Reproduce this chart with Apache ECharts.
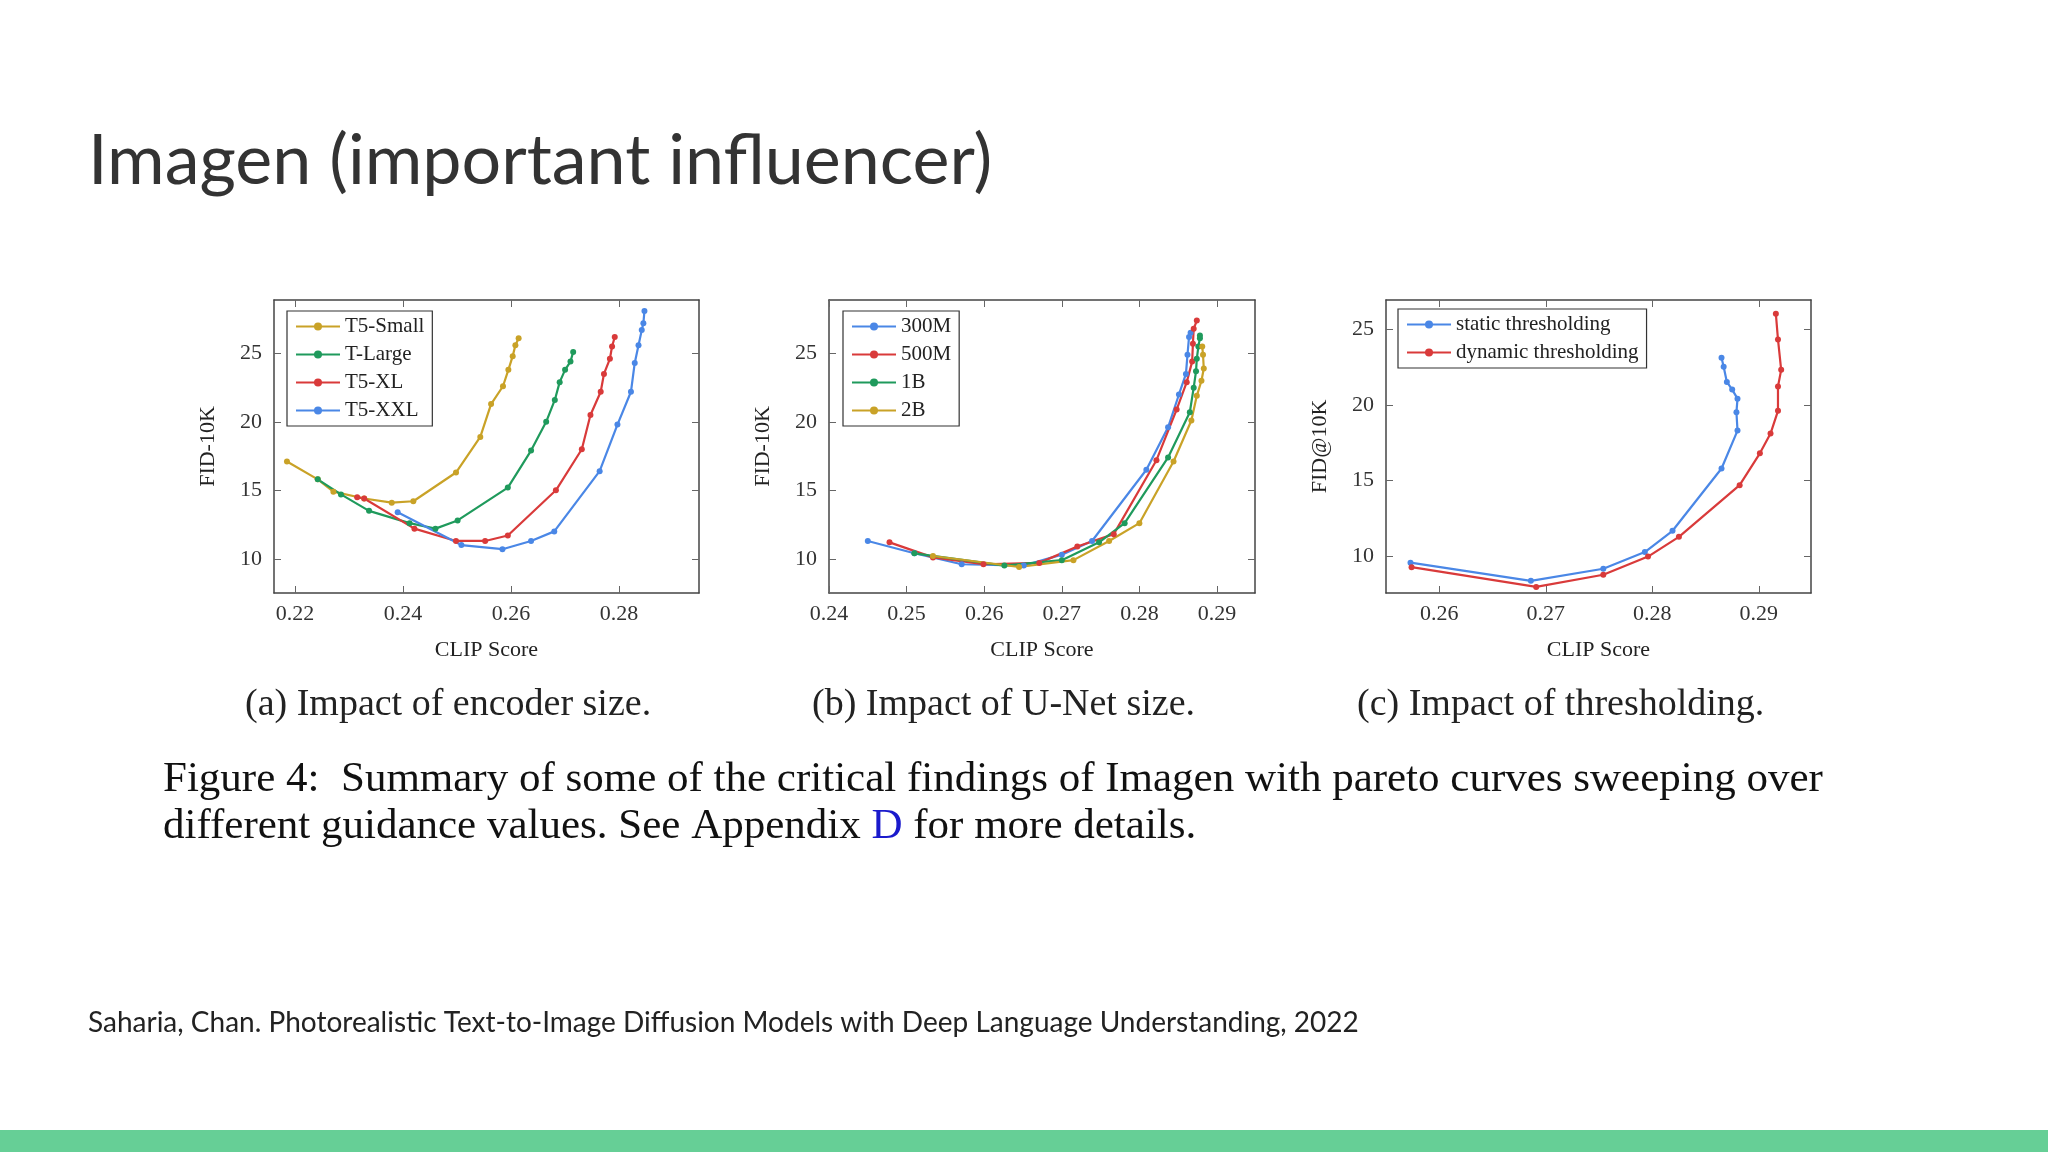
<!DOCTYPE html>
<html><head><meta charset="utf-8">
<script src="https://cdn.jsdelivr.net/npm/echarts@6/dist/echarts.min.js"></script>
<style>html,body{margin:0;padding:0;background:#fff}#c{width:2048px;height:1152px}</style>
</head><body><div id="c"></div>
<script>
// Panel (a)
const t5Small=[[0.2185,17.1],[0.2242,15.8],[0.2271,14.9],[0.2328,14.4],[0.2379,14.1],[0.2419,14.2],[0.2498,16.3],[0.2543,18.9],[0.2563,21.3],[0.2585,22.6],[0.2595,23.8],[0.2603,24.8],[0.2608,25.6],[0.2614,26.1]];
const tLarge=[[0.2242,15.8],[0.2285,14.7],[0.2337,13.5],[0.2412,12.6],[0.2460,12.2],[0.2501,12.8],[0.2594,15.2],[0.2637,17.9],[0.2665,20.0],[0.2681,21.6],[0.2690,22.9],[0.2700,23.8],[0.2710,24.4],[0.2715,25.1]];
const t5XL=[[0.2315,14.5],[0.2328,14.4],[0.2421,12.2],[0.2498,11.3],[0.2552,11.3],[0.2594,11.7],[0.2683,15.0],[0.2731,18.0],[0.2747,20.5],[0.2766,22.2],[0.2772,23.5],[0.2783,24.6],[0.2787,25.5],[0.2792,26.2]];
const t5XXL=[[0.2390,13.4],[0.2508,11.0],[0.2584,10.7],[0.2637,11.3],[0.2680,12.0],[0.2764,16.4],[0.2797,19.8],[0.2822,22.2],[0.2829,24.3],[0.2836,25.6],[0.2842,26.7],[0.2845,27.2],[0.2847,28.1]];
// Panel (b)
const m300=[[0.2450,11.3],[0.2510,10.4],[0.2571,9.6],[0.2651,9.5],[0.2700,10.3],[0.2739,11.3],[0.2809,16.5],[0.2837,19.6],[0.2851,22.0],[0.2860,23.5],[0.2862,24.9],[0.2864,26.2],[0.2866,26.5]];
const m500=[[0.2478,11.2],[0.2534,10.1],[0.2599,9.6],[0.2671,9.7],[0.2720,10.9],[0.2767,11.8],[0.2822,17.2],[0.2848,20.9],[0.2861,22.9],[0.2868,24.4],[0.2869,25.7],[0.2870,26.8],[0.2874,27.4]];
const b1=[[0.2510,10.4],[0.2626,9.5],[0.2700,9.9],[0.2748,11.2],[0.2781,12.6],[0.2837,17.4],[0.2865,20.7],[0.2870,22.5],[0.2873,23.7],[0.2874,24.6],[0.2876,25.5],[0.2878,26.1],[0.2878,26.3]];
const b2=[[0.2534,10.2],[0.2645,9.4],[0.2715,9.9],[0.2761,11.3],[0.2800,12.6],[0.2844,17.1],[0.2867,20.1],[0.2874,21.9],[0.2880,23.0],[0.2883,23.9],[0.2882,24.9],[0.2881,25.5]];
// Panel (c)
const staticTh=[[0.2573,9.6],[0.2686,8.4],[0.2754,9.2],[0.2793,10.3],[0.2819,11.7],[0.2865,15.8],[0.2880,18.3],[0.2879,19.5],[0.2880,20.4],[0.2875,21.0],[0.2870,21.5],[0.2867,22.5],[0.2865,23.1]];
const dynamicTh=[[0.2574,9.3],[0.2691,8.0],[0.2754,8.8],[0.2796,10.0],[0.2825,11.3],[0.2882,14.7],[0.2901,16.8],[0.2911,18.1],[0.2918,19.6],[0.2918,21.2],[0.2921,22.3],[0.2918,24.3],[0.2916,26.0]];
const xTicksA=[0.22,0.24,0.26,0.28], xTicksB=[0.24,0.25,0.26,0.27,0.28,0.29], xTicksC=[0.26,0.27,0.28,0.29];
const yTicks=[10,15,20,25];

const C={gold:'#c9a227',green:'#1f9a5c',red:'#d93a3a',blue:'#4a87e6'};
const serif='Liberation Serif';
const grids=[{left:274,top:300,width:425,height:293},{left:829,top:300,width:426,height:293},{left:1386,top:300,width:425,height:293}];
const xr=[[0.2161,0.2948,xTicksA],[0.24,0.2949,xTicksB],[0.255,0.2949,xTicksC]];
const yr=[[7.5,28.9,'FID-10K'],[7.5,28.9,'FID-10K'],[7.6,26.9,'FID@10K']];
const xAxis=[],yAxis=[];
grids.forEach((g,i)=>{
  const base={min:xr[i][0],max:xr[i][1],gridIndex:i,type:'value',splitLine:{show:false},
    axisLine:{lineStyle:{color:'#444',width:1.5}},axisTick:{inside:true,length:7,customValues:xr[i][2],lineStyle:{color:'#666'}}};
  xAxis.push(Object.assign({},base,{position:'bottom',name:'CLIP Score',nameLocation:'middle',nameGap:46,
    nameTextStyle:{fontFamily:serif,fontSize:22,color:'#222'},
    axisLabel:{customValues:xr[i][2],formatter:v=>v.toFixed(2),fontFamily:serif,fontSize:22,color:'#333',margin:10}}));
  xAxis.push(Object.assign({},base,{position:'top',axisLabel:{show:false}}));
  const yb={min:yr[i][0],max:yr[i][1],gridIndex:i,type:'value',splitLine:{show:false},
    axisLine:{lineStyle:{color:'#444',width:1.5}},axisTick:{inside:true,length:7,customValues:yTicks,lineStyle:{color:'#666'}}};
  yAxis.push(Object.assign({},yb,{position:'left',name:yr[i][2],nameLocation:'middle',nameGap:55,
    nameTextStyle:{fontFamily:serif,fontSize:22,color:'#222'},
    axisLabel:{customValues:yTicks,fontFamily:serif,fontSize:22,color:'#333',margin:12}}));
  yAxis.push(Object.assign({},yb,{position:'right',axisLabel:{show:false}}));
});
function ser(name,data,color,gi){return {name,type:'line',data,xAxisIndex:gi*2,yAxisIndex:gi*2,
  symbol:'circle',symbolSize:6,showSymbol:true,lineStyle:{width:2.2,color},itemStyle:{color},z:3,silent:true};}
const series=[ser('T5-Small',t5Small,C.gold,0),ser('T-Large',tLarge,C.green,0),ser('T5-XL',t5XL,C.red,0),ser('T5-XXL',t5XXL,C.blue,0),
 ser('300M',m300,C.blue,1),ser('500M',m500,C.red,1),ser('1B',b1,C.green,1),ser('2B',b2,C.gold,1),
 ser('static thresholding',staticTh,C.blue,2),ser('dynamic thresholding',dynamicTh,C.red,2)];
function leg(data,left,top){return {data,left,top,orient:'vertical',itemGap:7,itemWidth:44,itemHeight:10,
  borderColor:'#333',borderWidth:1.2,borderRadius:0,padding:[5,8,5,8],backgroundColor:'#fff',
  textStyle:{fontFamily:serif,fontSize:21,color:'#222'},selectedMode:false};}
const chart=echarts.init(document.getElementById('c'));
chart.setOption({backgroundColor:'#fff',animation:false,
 grid:grids,xAxis,yAxis,series,
 legend:[leg(['T5-Small','T-Large','T5-XL','T5-XXL'],287,311),leg(['300M','500M','1B','2B'],843,311),leg(['static thresholding','dynamic thresholding'],1398,309)],
 graphic:[
  {type:'text',left:88,top:126,style:{text:'Imagen (important influencer)',font:'70px Lato',fill:'#333'}},
  {type:'text',left:245,top:686,style:{text:'(a) Impact of encoder size.',font:'38px "Liberation Serif"',fill:'#222'}},
  {type:'text',left:812,top:686,style:{text:'(b) Impact of U-Net size.',font:'38px "Liberation Serif"',fill:'#222'}},
  {type:'text',left:1357,top:686,style:{text:'(c) Impact of thresholding.',font:'38px "Liberation Serif"',fill:'#222'}},
  {type:'text',left:163,top:758,style:{text:'Figure 4:  Summary of some of the critical findings of Imagen with pareto curves sweeping over',font:'43px "Liberation Serif"',fill:'#111'}},
  {type:'text',left:163,top:805,style:{rich:{a:{font:'43px "Liberation Serif"',fill:'#111'},d:{font:'43px "Liberation Serif"',fill:'#1a1acc'}},text:'{a|different guidance values. See Appendix }{d|D}{a| for more details.}'}},
  {type:'text',left:88,top:1009,style:{text:'Saharia, Chan. Photorealistic Text-to-Image Diffusion Models with Deep Language Understanding, 2022',font:'28px Lato',fill:'#222'}},
  {type:'rect',left:0,top:1130,shape:{width:2048,height:22},style:{fill:'#66cf96'}}
 ]});
</script></body></html>
